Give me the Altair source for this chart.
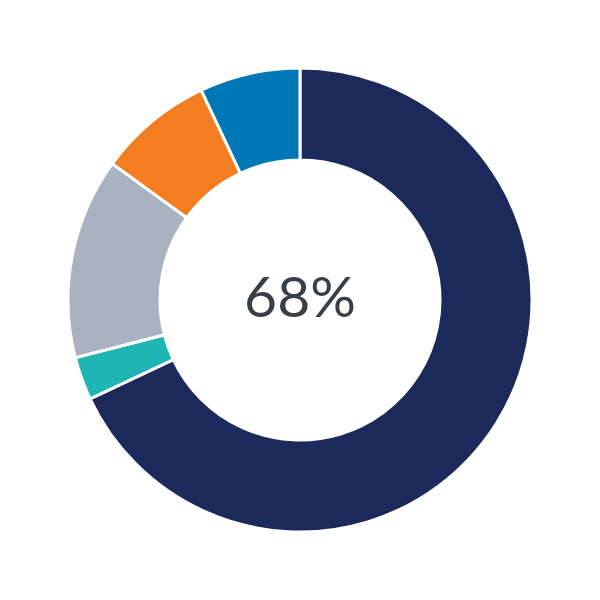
import altair as alt
import pandas as pd

categories = ["A", "B", "C", "D", "E"]
values = [68, 3, 14, 8, 7]
colors = ["#1b2a5a", "#1fb5b5", "#a8b2c1", "#f47d20", "#0077b6"]
center_label = "68%"

df = pd.DataFrame({"cat": categories, "value": values, "order": list(range(len(values)))})

arcs = alt.Chart(df).mark_arc(radius=232, radius2=140, stroke="white", strokeWidth=3).encode(
    theta=alt.Theta("value:Q", stack=True),
    color=alt.Color("cat:N", scale=alt.Scale(domain=categories, range=colors), legend=None),
    order=alt.Order("order:Q"),
)

text = alt.Chart(pd.DataFrame({"t": [center_label]})).mark_text(
    font="Lato", fontSize=57, color="#3a3f47", fontWeight="normal", baseline="middle", align="center"
).encode(text="t:N", x=alt.value(292), y=alt.value(292))

chart = alt.layer(arcs, text).properties(
    width=584, height=584, padding=0, autosize=alt.AutoSizeParams(type="none")
).configure_view(stroke=None)

chart.save("out.html", embed_options={"renderer": "svg", "actions": False})
